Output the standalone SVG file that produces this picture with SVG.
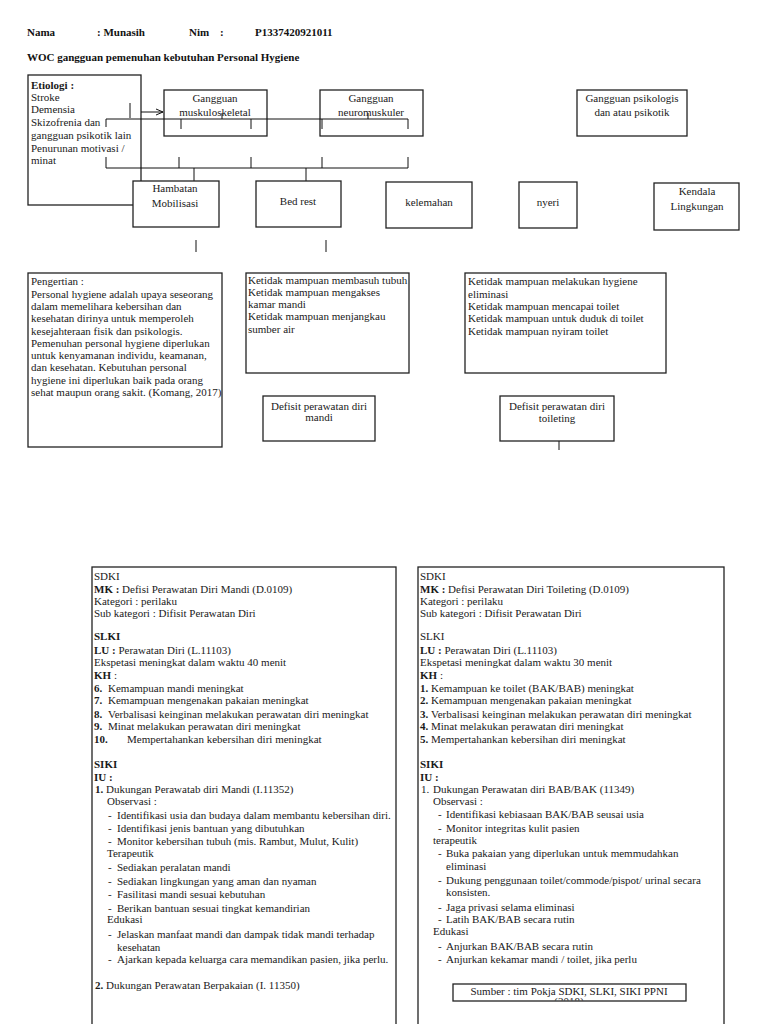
<svg xmlns="http://www.w3.org/2000/svg" width="768" height="1024" viewBox="0 0 768 1024">
<style>
.t{font-family:"Liberation Serif","Times New Roman",serif;font-size:11px;fill:#1a1a1a}
.b{font-weight:bold}
.c{text-anchor:middle}
.h{font-family:"Liberation Serif","Times New Roman",serif;font-size:11px;font-weight:bold;fill:#111}
.box{fill:#fff;stroke:#222;stroke-width:1.3}
.ln{fill:none;stroke:#111;stroke-width:1}
</style>
<defs>
<marker id="arr" markerWidth="8" markerHeight="8" refX="7" refY="4" orient="auto" markerUnits="userSpaceOnUse">
<path d="M0,1 L7,4 L0,7" fill="none" stroke="#111" stroke-width="1"/>
</marker>
<clipPath id="srcClip"><rect x="453" y="984" width="233" height="16.5"/></clipPath>
</defs>
<rect width="768" height="1024" fill="#fff"/>

<g id="header">
<text class="h" x="27" y="36">Nama</text>
<text class="h" x="97" y="36">: Munasih</text>
<text class="h" x="189" y="36">Nim</text>
<text class="h" x="220" y="36">:</text>
<text class="h" x="255" y="36">P1337420921011</text>
<text class="h" x="27" y="61">WOC gangguan pemenuhan kebutuhan Personal Hygiene</text>
</g>

<g id="etiologi">
<rect class="box" x="28" y="75" width="113" height="130"/>
<text class="t" x="31" y="89"><tspan class="b">Etiologi :</tspan></text>
<text class="t" x="31" y="101">Stroke</text>
<text class="t" x="31" y="113">Demensia</text>
<text class="t" x="31" y="126">Skizofrenia dan</text>
<text class="t" x="31" y="139">gangguan psikotik lain</text>
<text class="t" x="31" y="152">Penurunan motivasi /</text>
<text class="t" x="31" y="164">minat</text>
</g>

<g id="muskuloskeletal">
<rect class="box" x="164" y="90" width="103" height="46"/>
<text class="t c" x="215" y="102">Gangguan</text>
<text class="t c" x="215" y="116">muskuloskeletal</text>
</g>

<g id="neuromuskuler">
<rect class="box" x="320" y="90" width="103" height="46"/>
<text class="t c" x="371" y="102">Gangguan</text>
<text class="t c" x="371" y="116">neuromuskuler</text>
</g>

<g id="psikologis">
<rect class="box" x="577" y="90" width="110" height="46"/>
<text class="t c" x="632" y="102">Gangguan psikologis</text>
<text class="t c" x="632" y="116">dan atau psikotik</text>
</g>

<g id="connectors">
<path class="ln" d="M141,112 H163" marker-end="url(#arr)"/>
<path class="ln" d="M130,103 V118"/>
<path class="ln" d="M106,127 V119 H408 V129"/>
<path class="ln" d="M181,119 V129 M251,119 V129 M322,119 V129"/>
<path class="ln" d="M222,113 V119 M368,113 V119"/>
<path class="ln" d="M106,157 V168 H408 V157"/>
<path class="ln" d="M179,157 V168 M251,157 V168 M322,157 V168"/>
<path class="ln" d="M194,168 V181 M306,168 V181"/>
<path class="ln" d="M196,240 V252 M326,240 V252"/>
<path class="ln" d="M192,277 V289"/>
<path class="ln" d="M559,427 V450"/>
</g>

<g id="hambatan">
<rect class="box" x="133" y="181" width="86" height="46"/>
<text class="t c" x="175" y="192">Hambatan</text>
<text class="t c" x="175" y="207">Mobilisasi</text>
</g>

<g id="bedrest">
<rect class="box" x="256" y="181" width="85" height="46"/>
<text class="t c" x="298" y="205">Bed rest</text>
</g>

<g id="kelemahan">
<rect class="box" x="386" y="182" width="86" height="46"/>
<text class="t c" x="429" y="206">kelemahan</text>
</g>

<g id="nyeri">
<rect class="box" x="519" y="182" width="58" height="46"/>
<text class="t c" x="548" y="206">nyeri</text>
</g>

<g id="kendala">
<rect class="box" x="654" y="183" width="85" height="47"/>
<text class="t c" x="697" y="195">Kendala</text>
<text class="t c" x="697" y="210">Lingkungan</text>
</g>

<g id="pengertian">
<rect class="box" x="28" y="273" width="194" height="174" fill="none"/>
<text class="t" x="31" y="285">Pengertian :</text>
<text class="t" x="31" y="298">Personal hygiene adalah upaya seseorang</text>
<text class="t" x="31" y="310">dalam memelihara kebersihan dan</text>
<text class="t" x="31" y="322">kesehatan dirinya untuk memperoleh</text>
<text class="t" x="31" y="335">kesejahteraan fisik dan psikologis.</text>
<text class="t" x="31" y="347">Pemenuhan personal hygiene diperlukan</text>
<text class="t" x="31" y="359">untuk kenyamanan individu, keamanan,</text>
<text class="t" x="31" y="371">dan kesehatan. Kebutuhan personal</text>
<text class="t" x="31" y="384">hygiene ini diperlukan baik pada orang</text>
<text class="t" x="31" y="396">sehat maupun orang sakit. (Komang, 2017)</text>
</g>

<g id="ketidakmampuan-mandi">
<rect class="box" x="246" y="273" width="163" height="100"/>
<text class="t" x="248" y="284">Ketidak mampuan membasuh tubuh</text>
<text class="t" x="248" y="296">Ketidak mampuan mengakses</text>
<text class="t" x="248" y="308">kamar mandi</text>
<text class="t" x="248" y="320">Ketidak mampuan menjangkau</text>
<text class="t" x="248" y="333">sumber air</text>
</g>

<g id="ketidakmampuan-toileting">
<rect class="box" x="465" y="273" width="201" height="100"/>
<text class="t" x="468" y="285">Ketidak mampuan melakukan hygiene</text>
<text class="t" x="468" y="298">eliminasi</text>
<text class="t" x="468" y="310">Ketidak mampuan mencapai toilet</text>
<text class="t" x="468" y="322">Ketidak mampuan untuk duduk di toilet</text>
<text class="t" x="468" y="335">Ketidak mampuan nyiram toilet</text>
</g>

<g id="defisit-mandi">
<rect class="box" x="263" y="396" width="112" height="45"/>
<text class="t c" x="319" y="410">Defisit perawatan diri</text>
<text class="t c" x="319" y="421">mandi</text>
</g>

<g id="defisit-toileting">
<rect class="box" x="500" y="396" width="114" height="45" fill="none"/>
<text class="t c" x="557" y="410">Defisit perawatan diri</text>
<text class="t c" x="557" y="422">toileting</text>
</g>

<g id="sdki-mandi">
<rect class="box" x="92" y="567" width="304" height="470"/>
<text class="t" x="94" y="580">SDKI</text>
<text class="t" x="94" y="593"><tspan class="b">MK :</tspan> Defisi Perawatan Diri Mandi (D.0109)</text>
<text class="t" x="94" y="605">Kategori : perilaku</text>
<text class="t" x="94" y="617">Sub kategori : Difisit Perawatan Diri</text>
<text class="t b" x="94" y="640">SLKI</text>
<text class="t" x="94" y="654"><tspan class="b">LU :</tspan> Perawatan Diri (L.11103)</text>
<text class="t" x="94" y="666">Ekspetasi meningkat dalam waktu 40 menit</text>
<text class="t" x="94" y="679"><tspan class="b">KH</tspan> :</text>
<text class="t" x="94" y="692"><tspan class="b">6.</tspan></text><text class="t" x="108" y="692">Kemampuan mandi meningkat</text>
<text class="t" x="94" y="704"><tspan class="b">7.</tspan></text><text class="t" x="108" y="704">Kemampuan mengenakan pakaian meningkat</text>
<text class="t" x="94" y="718"><tspan class="b">8.</tspan></text><text class="t" x="108" y="718">Verbalisasi keinginan melakukan perawatan diri meningkat</text>
<text class="t" x="94" y="730"><tspan class="b">9.</tspan></text><text class="t" x="108" y="730">Minat melakukan perawatan diri meningkat</text>
<text class="t" x="94" y="743"><tspan class="b">10.</tspan></text><text class="t" x="127" y="743">Mempertahankan kebersihan diri meningkat</text>
<text class="t b" x="94" y="768">SIKI</text>
<text class="t b" x="94" y="781">IU :</text>
<text class="t" x="95" y="793"><tspan class="b">1.</tspan></text><text class="t" x="106" y="793">Dukungan Perawatab diri Mandi (I.11352)</text>
<text class="t" x="107" y="805">Observasi :</text>
<text class="t" x="108" y="819">-</text><text class="t" x="117" y="819">Identifikasi  usia dan budaya dalam membantu kebersihan diri.</text>
<text class="t" x="108" y="832">-</text><text class="t" x="117" y="832">Identifikasi jenis bantuan yang dibutuhkan</text>
<text class="t" x="108" y="845">-</text><text class="t" x="117" y="845">Monitor kebersihan tubuh (mis. Rambut, Mulut, Kulit)</text>
<text class="t" x="107" y="857">Terapeutik</text>
<text class="t" x="108" y="871">-</text><text class="t" x="117" y="871">Sediakan peralatan mandi</text>
<text class="t" x="108" y="885">-</text><text class="t" x="117" y="885">Sediakan lingkungan yang aman dan nyaman</text>
<text class="t" x="108" y="898">-</text><text class="t" x="117" y="898">Fasilitasi mandi sesuai kebutuhan</text>
<text class="t" x="108" y="912">-</text><text class="t" x="117" y="912">Berikan bantuan sesuai tingkat kemandirian</text>
<text class="t" x="107" y="923">Edukasi</text>
<text class="t" x="108" y="938">-</text><text class="t" x="117" y="938">Jelaskan manfaat mandi dan dampak tidak mandi terhadap</text>
<text class="t" x="117" y="951">kesehatan</text>
<text class="t" x="108" y="963">-</text><text class="t" x="117" y="963">Ajarkan kepada keluarga cara memandikan pasien, jika perlu.</text>
<text class="t" x="95" y="989"><tspan class="b">2.</tspan></text><text class="t" x="106" y="989">Dukungan Perawatan Berpakaian (I. 11350)</text>
</g>

<g id="sdki-toileting">
<rect class="box" x="418" y="567" width="306" height="470"/>
<text class="t" x="420" y="580">SDKI</text>
<text class="t" x="420" y="593"><tspan class="b">MK :</tspan> Defisi Perawatan Diri Toileting (D.0109)</text>
<text class="t" x="420" y="605">Kategori : perilaku</text>
<text class="t" x="420" y="617">Sub kategori : Difisit Perawatan Diri</text>
<text class="t" x="420" y="640">SLKI</text>
<text class="t" x="420" y="654"><tspan class="b">LU :</tspan> Perawatan Diri (L.11103)</text>
<text class="t" x="420" y="666">Ekspetasi meningkat dalam waktu 30 menit</text>
<text class="t" x="420" y="679"><tspan class="b">KH</tspan> :</text>
<text class="t" x="420" y="692"><tspan class="b">1.</tspan></text><text class="t" x="431" y="692">Kemampuan ke toilet (BAK/BAB) meningkat</text>
<text class="t" x="420" y="704"><tspan class="b">2.</tspan></text><text class="t" x="431" y="704">Kemampuan mengenakan pakaian meningkat</text>
<text class="t" x="420" y="718"><tspan class="b">3.</tspan></text><text class="t" x="431" y="718">Verbalisasi keinginan melakukan perawatan diri meningkat</text>
<text class="t" x="420" y="730"><tspan class="b">4.</tspan></text><text class="t" x="431" y="730">Minat melakukan perawatan diri meningkat</text>
<text class="t" x="420" y="743"><tspan class="b">5.</tspan></text><text class="t" x="431" y="743">Mempertahankan kebersihan diri meningkat</text>
<text class="t b" x="420" y="768">SIKI</text>
<text class="t b" x="420" y="781">IU :</text>
<text class="t" x="421" y="793">1.</text><text class="t" x="433" y="793">Dukungan Perawatan diri BAB/BAK (11349)</text>
<text class="t" x="433" y="805">Observasi :</text>
<text class="t" x="438" y="818">-</text><text class="t" x="446" y="818">Identifikasi kebiasaan BAK/BAB seusai usia</text>
<text class="t" x="438" y="832">-</text><text class="t" x="446" y="832">Monitor integritas kulit pasien</text>
<text class="t" x="433" y="844">terapeutik</text>
<text class="t" x="438" y="857">-</text><text class="t" x="446" y="857">Buka pakaian yang diperlukan untuk memmudahkan</text>
<text class="t" x="446" y="870">eliminasi</text>
<text class="t" x="438" y="884">-</text><text class="t" x="446" y="884">Dukung penggunaan toilet/commode/pispot/ urinal secara</text>
<text class="t" x="446" y="896">konsisten.</text>
<text class="t" x="438" y="911">-</text><text class="t" x="446" y="911">Jaga privasi selama eliminasi</text>
<text class="t" x="438" y="923">-</text><text class="t" x="446" y="923">Latih BAK/BAB secara rutin</text>
<text class="t" x="433" y="935">Edukasi</text>
<text class="t" x="438" y="950">-</text><text class="t" x="446" y="950">Anjurkan BAK/BAB secara rutin</text>
<text class="t" x="438" y="963">-</text><text class="t" x="446" y="963">Anjurkan kekamar mandi / toilet, jika perlu</text>
</g>

<g id="sumber">
<rect class="box" x="453" y="984" width="233" height="17"/>
<text class="t c" x="569" y="995">Sumber : tim Pokja SDKI, SLKI, SIKI PPNI</text>
<text class="t c" x="569" y="1005" clip-path="url(#srcClip)">(2018)</text>
</g>
</svg>
